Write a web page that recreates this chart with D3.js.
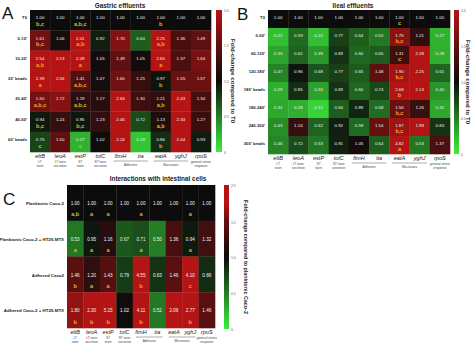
<!DOCTYPE html>
<html>
<head>
<meta charset="utf-8">
<script src="https://cdn.jsdelivr.net/npm/d3@7"></script>
<style>
  body { margin: 0; background: #fff; }
  svg { display: block; }
  text { font-family: "Liberation Sans", Arial, sans-serif; }
</style>
</head>
<body>
<svg id="chart" width="474" height="348"></svg>
<script>
// genes shared by all three heatmaps
const genes = ["eltB", "leoA", "estP", "tolC", "fimH", "tia", "eatA", "yghJ", "rpoS"];
const geneNotes = [["LT", "toxin"], ["LT toxin", "secretion"], ["ST", "toxin"], ["ST toxin", "secretion"],
    [], [], [], [], ["general stress", "response"]];
const geneGroups = [
    { label: "Adhesins", from: "fimH", to: "tia" },
    { label: "Mucinases", from: "eatA", to: "yghJ" }
];

// A - gastric effluents
const gastricRows = ["T0", "0-10'", "10-20'", "20' beads", "20-40'", "40-60'", "60' beads"];
const gastricValues = [
    [1.00, 1.00, 1.00, 1.00, 1.00, 1.00, 1.00, 1.00, 1.00],
    [1.61, 1.06, 2.01, 0.92, 1.70, 0.64, 2.25, 1.36, 1.49],
    [2.54, 2.13, 2.09, 1.05, 1.49, 1.05, 2.65, 1.37, 1.64],
    [2.39, 2.56, 1.41, 1.07, 1.60, 1.25, 0.97, 1.55, 1.57],
    [1.60, 1.72, 1.19, 1.17, 2.63, 1.30, 1.21, 2.43, 1.34],
    [0.94, 1.24, 0.95, 1.23, 2.06, 0.72, 1.13, 2.34, 1.27],
    [0.75, 1.50, 0.27, 1.02, 2.24, 0.18, 0.86, 2.44, 0.93]
];
const gastricLetters = [
    ["b,c", "", "a,b,c", "", "", "", "b", "", ""],
    ["b,c", "", "a,b", "", "", "", "a,b", "", ""],
    ["a,b", "", "a", "", "", "", "a", "", ""],
    ["a", "", "a,b,c", "", "", "", "b", "", ""],
    ["a,b,c", "", "a,b,c", "", "", "", "a,b", "", ""],
    ["b,c", "", "b,c", "", "", "", "a,b", "", ""],
    ["c", "", "c", "", "", "", "b", "", ""]
];

// B - ileal effluents
const ilealRows = ["T0", "0-60'", "60-120'", "120-180'", "180' beads", "180-240'", "240-300'", "300' beads"];
const ilealValues = [
    [1.00, 1.00, 1.00, 1.00, 1.00, 1.00, 1.00, 1.00, 1.00],
    [0.21, 0.59, 0.22, 0.77, 0.64, 0.52, 1.75, 1.21, 0.27],
    [0.33, 0.62, 0.39, 0.83, 0.60, 0.65, 1.31, 2.28, 0.28],
    [0.47, 0.96, 0.68, 0.77, 0.65, 1.48, 1.90, 2.25, 0.61],
    [0.29, 0.85, 0.34, 0.83, 0.60, 0.74, 2.68, 2.13, 0.40],
    [0.31, 0.28, 0.12, 0.64, 0.89, 0.58, 1.56, 1.26, 0.32],
    [0.43, 1.24, 0.62, 0.92, 0.59, 1.54, 1.87, 1.99, 0.83],
    [0.46, 0.72, 0.53, 0.91, 1.05, 0.64, 4.82, 0.53, 1.37]
];
const ilealLetters = [
    ["", "", "", "", "", "", "c", "", ""],
    ["", "", "", "", "", "", "b,c", "", ""],
    ["", "", "", "", "", "", "c", "", ""],
    ["", "", "", "", "", "", "b,c", "", ""],
    ["", "", "", "", "", "", "b", "", ""],
    ["", "", "", "", "", "", "b,c", "", ""],
    ["", "", "", "", "", "", "b,c", "", ""],
    ["", "", "", "", "", "", "a", "", ""]
];

// C - interactions with intestinal cells
const cellRows = ["Planktonic Caco-2", "Planktonic Caco-2 + HT29-MTX", "Adhered Caco2", "Adhered Caco-2 + HT29-MTX"];
const cellValues = [
    [1.00, 1.00, 1.00, 1.00, 1.00, 1.00, 1.00, 1.00, 1.00],
    [0.53, 0.95, 1.16, 0.67, 0.71, 0.50, 1.36, 0.94, 1.32],
    [1.46, 1.20, 1.43, 0.79, 4.55, 0.83, 1.46, 4.10, 0.86],
    [1.80, 2.30, 5.15, 1.02, 4.11, 0.52, 2.09, 2.77, 1.46]
];
const cellLetters = [
    ["a,b", "a", "a", "", "a", "", "", "a", ""],
    ["a", "a", "a", "", "a", "", "", "a", ""],
    ["b", "a", "a", "", "b", "", "", "c", ""],
    ["b", "b", "b", "", "b", "", "", "b", ""]
];

const foldTicks = [0, 0.5, 1, 1.5, 2];
const cellTicks = [0, 0.5, 1, 1.5, 2.5];

const color = d3.scaleLinear()
    .domain([0, 1, 2])
    .range(["#3cf03c", "#0c0c0c", "#b51414"])
    .clamp(true);

const svg = d3.select("#chart");
const defs = svg.append("defs");

function drawPanel(cfg) {
    const g = svg.append("g");
    const x = d3.scaleBand().domain(genes).range([cfg.x0, cfg.x1]);
    const y = d3.scaleBand().domain(cfg.rows).range([cfg.y0, cfg.y1]);

    const cells = cfg.values.flatMap((row, i) => row.map((v, j) => ({
        row: cfg.rows[i], gene: genes[j], v, letter: cfg.letters[i][j]
    })));

    g.selectAll("rect.cell")
        .data(cells)
        .join("rect")
        .attr("class", "cell")
        .attr("x", d => x(d.gene))
        .attr("y", d => y(d.row))
        .attr("width", x.bandwidth() + 0.3)
        .attr("height", y.bandwidth() + 0.3)
        .attr("fill", d => color(d.v));

    g.selectAll("text.val")
        .data(cells)
        .join("text")
        .attr("class", "val")
        .attr("x", d => x(d.gene) + x.bandwidth() / 2)
        .attr("y", d => y(d.row) + y.bandwidth() / 2 + cfg.valueDy)
        .attr("text-anchor", "middle")
        .attr("dominant-baseline", "middle")
        .attr("font-size", cfg.valueSize)
        .attr("fill", "#f2f2f2")
        .text(d => d.v.toFixed(2));

    g.selectAll("text.letter")
        .data(cells.filter(d => d.letter))
        .join("text")
        .attr("class", "letter")
        .attr("x", d => x(d.gene) + x.bandwidth() / 2)
        .attr("y", d => y(d.row) + y.bandwidth() / 2 + cfg.letterDy)
        .attr("text-anchor", "middle")
        .attr("dominant-baseline", "middle")
        .attr("font-size", cfg.letterSize)
        .attr("font-weight", "bold")
        .attr("fill", d => d.v > 1.3 ? "#f2a52c" : "#cdbd2c")
        .text(d => d.letter);

    // row labels
    g.selectAll("text.rowlab")
        .data(cfg.rows)
        .join("text")
        .attr("class", "rowlab")
        .attr("x", cfg.x0 - 3)
        .attr("y", d => y(d) + y.bandwidth() / 2 + cfg.valueDy)
        .attr("text-anchor", "end")
        .attr("dominant-baseline", "middle")
        .attr("font-size", cfg.rowSize)
        .attr("font-weight", "bold")
        .attr("fill", "#222")
        .text(d => d);

    // gene labels + notes
    const gy = cfg.y1 + 6;
    g.selectAll("text.gene")
        .data(genes)
        .join("text")
        .attr("class", "gene")
        .attr("x", d => x(d) + x.bandwidth() / 2)
        .attr("y", gy)
        .attr("text-anchor", "middle")
        .attr("font-size", 5.6)
        .attr("font-style", "italic")
        .attr("fill", "#222")
        .text(d => d);

    genes.forEach((gname, j) => {
        geneNotes[j].forEach((line, k) => {
            g.append("text")
                .attr("x", x(gname) + x.bandwidth() / 2)
                .attr("y", gy + 5 + k * 3.6)
                .attr("text-anchor", "middle")
                .attr("font-size", 3.2)
                .attr("fill", "#444")
                .text(line);
        });
    });

    geneGroups.forEach(grp => {
        const a = x(grp.from) + 3, b = x(grp.to) + x.bandwidth() - 3;
        g.append("line")
            .attr("x1", a).attr("x2", b)
            .attr("y1", gy + 3).attr("y2", gy + 3)
            .attr("stroke", "#555").attr("stroke-width", 0.5);
        g.append("text")
            .attr("x", (a + b) / 2)
            .attr("y", gy + 7.5)
            .attr("text-anchor", "middle")
            .attr("font-size", 3.2)
            .attr("fill", "#444")
            .text(grp.label);
    });

    // colour bar
    const cb = d3.scaleLinear().domain(cfg.cbDomain).range(cfg.cbRange);
    const vmax = cfg.cbDomain[cfg.cbDomain.length - 1];
    const gradId = "grad" + cfg.id;
    const grad = defs.append("linearGradient")
        .attr("id", gradId)
        .attr("x1", 0).attr("x2", 0).attr("y1", 1).attr("y2", 0);
    d3.range(0, vmax + 0.001, 0.1).forEach(v => {
        grad.append("stop")
            .attr("offset", (cfg.cbRange[0] - cb(v)) / (cfg.cbRange[0] - cb(vmax)))
            .attr("stop-color", color(v));
    });
    g.append("rect")
        .attr("x", cfg.cbX)
        .attr("y", cb(vmax))
        .attr("width", cfg.cbW)
        .attr("height", cb(0) - cb(vmax))
        .attr("fill", `url(#${gradId})`);

    const axis = g.append("g")
        .attr("transform", `translate(${cfg.cbX + cfg.cbW},0)`)
        .call(d3.axisRight(cb).tickValues(cfg.ticks).tickSize(0).tickPadding(2)
            .tickFormat(d => d === 0 ? "0" : d3.format(".1f")(d)));
    axis.select(".domain").remove();
    axis.selectAll("text").attr("font-size", 3.4).attr("fill", "#555");

    g.append("text")
        .attr("transform", `translate(${cfg.cbLabelX},${(cb(0) + cb(vmax)) / 2}) rotate(90)`)
        .attr("text-anchor", "middle")
        .attr("dominant-baseline", "middle")
        .attr("font-size", cfg.cbLabelSize)
        .attr("font-weight", "bold")
        .attr("fill", "#222")
        .text(cfg.cbLabel);

    // title + panel letter
    g.append("text")
        .attr("x", cfg.titleX)
        .attr("y", cfg.titleY)
        .attr("text-anchor", "middle")
        .attr("font-size", 6.4)
        .attr("font-weight", "bold")
        .attr("fill", "#222")
        .text(cfg.title);

    g.append("text")
        .attr("x", cfg.letterX)
        .attr("y", cfg.letterY)
        .attr("font-family", "Liberation Serif, serif")
        .attr("font-size", 17)
        .attr("fill", "#111")
        .text(cfg.id);
}

drawPanel({
    id: "A", title: "Gastric effluents", titleX: 120, titleY: 8, letterX: 2, letterY: 19,
    rows: gastricRows, values: gastricValues, letters: gastricLetters,
    x0: 30, x1: 211, y0: 10, y1: 152,
    valueDy: -2, letterDy: 4.5, valueSize: 4.4, letterSize: 5.6, rowSize: 4.2,
    cbX: 216, cbW: 6, cbDomain: [0, 2], cbRange: [152, 10], ticks: foldTicks,
    cbLabelX: 233, cbLabelSize: 6.2, cbLabel: "Fold-change compared to T0"
});

drawPanel({
    id: "B", title: "Ileal effluents", titleX: 353, titleY: 8, letterX: 237, letterY: 20,
    rows: ilealRows, values: ilealValues, letters: ilealLetters,
    x0: 268, x1: 450, y0: 10, y1: 154,
    valueDy: -1, letterDy: 5, valueSize: 4.4, letterSize: 5.6, rowSize: 4.2,
    cbX: 454, cbW: 5, cbDomain: [0, 2], cbRange: [154, 10], ticks: foldTicks,
    cbLabelX: 468, cbLabelSize: 6.2, cbLabel: "Fold-change compared to T0"
});

drawPanel({
    id: "C", title: "Interactions with intestinal cells", titleX: 158, titleY: 181, letterX: 3, letterY: 205,
    rows: cellRows, values: cellValues, letters: cellLetters,
    x0: 67, x1: 215, y0: 185, y1: 328,
    valueDy: 1, letterDy: 12, valueSize: 4.6, letterSize: 5.6, rowSize: 4.4,
    cbX: 224, cbW: 5, cbDomain: [0, 1.5, 2.5], cbRange: [329, 222, 185], ticks: cellTicks,
    cbLabelX: 245, cbLabelSize: 5.4, cbLabel: "Fold-change compared to planktonic Caco-2"
});
</script>
</body>
</html>
